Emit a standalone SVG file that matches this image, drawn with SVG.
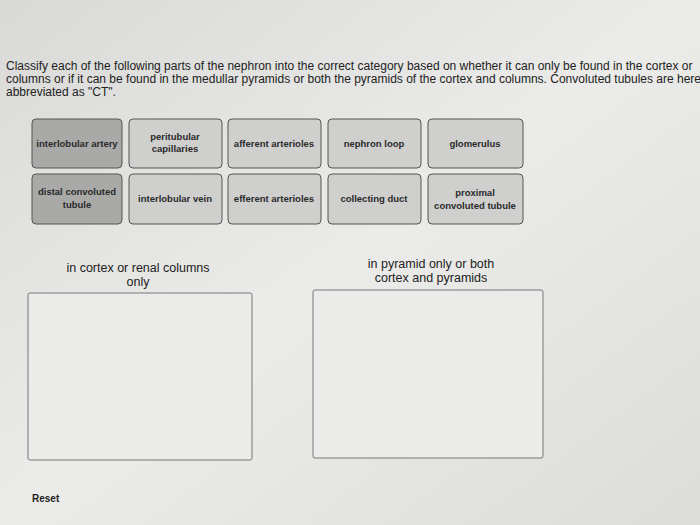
<svg xmlns="http://www.w3.org/2000/svg" width="700" height="525" viewBox="0 0 700 525">
<defs>
<linearGradient id="bg" x1="0" y1="0" x2="1" y2="1"><stop offset="0" stop-color="#d9d9d7"/><stop offset="0.5" stop-color="#ebebe9"/><stop offset="1" stop-color="#dcdcda"/></linearGradient>
</defs>
<style>
text{font-family:"Liberation Sans",Arial,sans-serif;fill:#222}
.q{font-size:12px}
.t{font-size:9.5px;font-weight:bold;text-anchor:middle;fill:#2a2a2a}
.tile{fill:#cfcfcd;stroke:#555;stroke-width:1}
.dark{fill:#a9a9a7}
.box{fill:#ebebea;stroke:#777;stroke-width:1}
.h{font-size:12.5px;text-anchor:middle}
</style>
<rect width="700" height="525" fill="url(#bg)"/>
<text class="q" x="6" y="70">Classify each of the following parts of the nephron into the correct category based on whether it can only be found in the cortex or</text>
<text class="q" x="6" y="83">columns or if it can be found in the medullar pyramids or both the pyramids of the cortex and columns. Convoluted tubules are here</text>
<text class="q" x="6" y="96">abbreviated as "CT".</text>
<g id="n1"><rect class="tile dark" x="32" y="119" width="90" height="49" rx="4"/><text class="t" x="77" y="147">interlobular artery</text></g>
<g id="n2"><rect class="tile" x="129" y="119" width="93" height="49" rx="4"/><text class="t" x="175" y="140">peritubular</text><text class="t" x="175" y="152">capillaries</text></g>
<g id="n3"><rect class="tile" x="228" y="119" width="93" height="49" rx="4"/><text class="t" x="274" y="147">afferent arterioles</text></g>
<g id="n4"><rect class="tile" x="328" y="119" width="93" height="49" rx="4"/><text class="t" x="374" y="147">nephron loop</text></g>
<g id="n5"><rect class="tile" x="428" y="119" width="95" height="49" rx="4"/><text class="t" x="475" y="147">glomerulus</text></g>
<g id="n6"><rect class="tile dark" x="32" y="174" width="90" height="50" rx="4"/><text class="t" x="77" y="195">distal convoluted</text><text class="t" x="77" y="208">tubule</text></g>
<g id="n7"><rect class="tile" x="129" y="174" width="93" height="50" rx="4"/><text class="t" x="175" y="202">interlobular vein</text></g>
<g id="n8"><rect class="tile" x="228" y="174" width="93" height="50" rx="4"/><text class="t" x="274" y="202">efferent arterioles</text></g>
<g id="n9"><rect class="tile" x="328" y="174" width="93" height="50" rx="4"/><text class="t" x="374" y="202">collecting duct</text></g>
<g id="n10"><rect class="tile" x="428" y="174" width="95" height="50" rx="4"/><text class="t" x="475" y="196">proximal</text><text class="t" x="475" y="209">convoluted tubule</text></g>
<g id="c1"><text class="h" x="138" y="272">in cortex or renal columns</text><text class="h" x="138" y="286">only</text><rect class="box" x="28" y="293" width="224" height="167" rx="2"/></g>
<g id="c2"><text class="h" x="431" y="268">in pyramid only or both</text><text class="h" x="431" y="282">cortex and pyramids</text><rect class="box" x="313" y="290" width="230" height="168" rx="2"/></g>
<g id="connectors"></g>
<text x="32" y="502" style="font-size:10px;font-weight:bold">Reset</text>
</svg>
